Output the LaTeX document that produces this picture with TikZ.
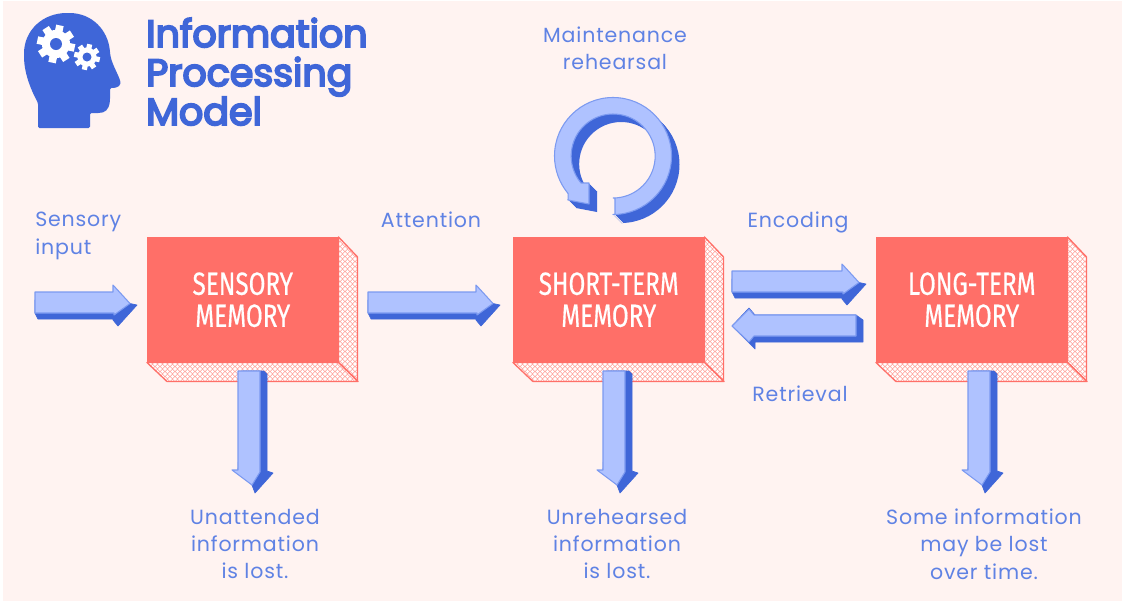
\documentclass[tikz,border=0pt]{standalone}
\usepackage{fontspec}
\usetikzlibrary{patterns}
\setmainfont{Poppins}
\newfontfamily\boxfont[FakeStretch=0.76,FakeBold=0.5]{Fira Sans}
\newfontfamily\lblfont[LetterSpace=4]{Poppins}
\newfontfamily\ttlfont[FakeBold=5]{Poppins}
\definecolor{bgpink}{HTML}{FFF3F1}
\definecolor{bluedark}{HTML}{3F66D8}
\definecolor{bluelight}{HTML}{AFC2FF}
\definecolor{blueline}{HTML}{7C9AF0}
\definecolor{bluetext}{HTML}{5F82E4}
\definecolor{boxred}{HTML}{FF6F68}
\definecolor{hatchred}{HTML}{FFA8A2}
\pgfdeclarepatternformonly{facedots}{\pgfqpoint{-1.3pt}{-1.3pt}}{\pgfqpoint{5.05pt}{5.05pt}}{\pgfqpoint{3.75pt}{3.75pt}}{%
  \pgfpathcircle{\pgfqpoint{0pt}{0pt}}{1.25pt}%
  \pgfpathcircle{\pgfqpoint{1.875pt}{1.875pt}}{1.25pt}%
  \pgfpathcircle{\pgfqpoint{3.75pt}{3.75pt}}{1.25pt}%
  \pgfpathcircle{\pgfqpoint{3.75pt}{0pt}}{1.25pt}%
  \pgfpathcircle{\pgfqpoint{0pt}{3.75pt}}{1.25pt}%
  \pgfusepath{fill}}
\tikzset{
  lbl/.style={text=bluetext,font=\fontsize{15.4}{20.5}\selectfont\lblfont,inner sep=0pt,align=center},
  lblleft/.style={lbl,align=left},
  ttl/.style={text=bluedark,font=\fontsize{28.5}{29.3}\selectfont\ttlfont,inner sep=0pt,align=left},
  front/.style={fill=boxred,inner sep=0pt,minimum width=143.25pt,minimum height=93.75pt,text=white,align=center,
     font=\fontsize{24}{24}\selectfont\boxfont},
  facerim/.style={draw=boxred,line width=1pt,line join=round},
  lightface/.style={fill=bluelight,draw=blueline,line width=.8pt,line join=round},
  darkface/.style={fill=bluedark,draw=bluedark,line width=.5pt,line join=round},
}
\newcommand{\hatchface}[1]{%
  \fill[hatchred] #1;
  \fill[pattern=facedots,pattern color=white] #1;
  \draw[facerim] #1;
}
% memory box: name, left x, text
\newcommand{\membox}[3]{%
  \node[front,anchor=north west] (#1) at (#2,237) {#3};
  % right face
  \hatchface{(#1.north east) -- ++(19,20) -- ++(0,124) -- (#1.south east) -- cycle}
  % bottom face
  \hatchface{(#1.south west) -- ++(20,19) -- ++(191,0) -- (#1.south east) -- cycle}
}
\newcommand{\rightarrowshape}[3]{% head base x, left end x, body top y
  \begin{scope}[shift={(#1,#3)}]
    \filldraw[darkface] (#2-#1,8) -- (#2-#1,21) -- (#2-#1+3,27) -- (0,27) -- (0,28) -- (5,34) -- (24,13) -- (17,11.5) -- (0,8) -- cycle;
    \filldraw[lightface] (#2-#1,0) -- (0,0) -- (0,-7) -- (17,11.5) -- (1,23) -- (1,21) -- (#2-#1,21) -- cycle;
  \end{scope}
}
\newcommand{\downarrowshape}[2]{% left light x, name
  \begin{scope}[shift={(#1,371)}]
    \filldraw[darkface] (4,0) -- (26,0) -- (29,3) -- (29,100) -- (35,102) -- (17,122) -- (14,114) -- (0,99) -- cycle;
    \filldraw[lightface] (0,0) -- (22,0) -- (22,101) -- (14,114) -- (-6,99) -- (0,99) -- cycle;
  \end{scope}
}
\newcommand{\gear}[4]{% x y radius hole
  \foreach \a in {0,45,...,315}{
    \draw[white,line width=#3*.30pt] ({#1+#3*.6*cos(\a+12)},{#2+#3*.6*sin(\a+12)}) -- ({#1+#3*cos(\a+12)},{#2+#3*sin(\a+12)});
  }
  \fill[white] (#1,#2) circle[radius=#3*.74];
  \fill[bluedark] (#1,#2) circle[radius=#4];
}
\begin{document}
\begin{tikzpicture}[x=.75pt,y=-.75pt]
\useasboundingbox (0,0) rectangle (1122,604);
\fill[white] (0,0) rectangle (1122,604);
\fill[bgpink] (3,1) rectangle (1122,601);
% head icon
\fill[bluedark,rounded corners=1pt] (38,128) -- (38,103) .. controls (30,88) and (24,72) .. (24,55)
  .. controls (24,30) and (43,13) .. (68,13)
  .. controls (92,13) and (108,30) .. (110,52)
  .. controls (111,62) and (116,70) .. (120,80)
  .. controls (121,85) and (119,88) .. (110,88)
  -- (110,100) .. controls (109,110) and (105,113) .. (97,113) -- (90,113) -- (90,128) -- cycle;
\gear{56}{44}{19}{6}
\gear{87}{57}{13}{4.5}
% title
\node[ttl,anchor=base west] (titlea) at (146,47) {Information};
\node[ttl,anchor=base west] (titleb) at (146,86) {Processing};
\node[ttl,anchor=base west] (titlec) at (146,125) {Model};
% boxes
\membox{sensory}{147}{SENSORY\\MEMORY}
\membox{shortterm}{513}{SHORT-TERM\\MEMORY}
\membox{longterm}{876}{LONG-TERM\\MEMORY}
% arrows
\rightarrowshape{113}{35}{292}
\rightarrowshape{476}{368}{292}
\rightarrowshape{842}{732}{271}
% retrieval
\filldraw[darkface] (732,326) -- (749,308) -- (755,315) -- (856,315) -- (863,320) -- (863,342) -- (755,342) -- (755,349) -- cycle;
\filldraw[lightface] (732,326) -- (749,309) -- (754,315) -- (856,315) -- (856,336) -- (754,336) -- (749,342) -- cycle;
\downarrowshape{238}{a}
\downarrowshape{603}{b}
\downarrowshape{968}{c}
% circular arrow
\foreach \d in {8,7,...,1}{
  \fill[bluedark,shift={(\d,\d)}] (613,215) arc[start angle=90,end angle=-220,radius=58.5] -- (568,200) -- (589,204) -- (589,183) -- (581,183) arc[start angle=-220,end angle=90,radius=42] -- (615,198) -- (615,215) -- cycle;
}
\filldraw[lightface] (613,214.5) arc[start angle=90,end angle=-220,radius=58.5] -- (568,200) -- (589,204) -- (589,183) -- (581,183) arc[start angle=-220,end angle=90,radius=42] -- (615,198) -- (615,214.5) -- cycle;
% labels
\node[lblleft,anchor=west] (lsens) at (35,236) {Sensory\\input};
\node[lbl] (latt) at (431,220) {Attention};
\node[lbl] (lenc) at (798,222) {Encoding};
\node[lbl] (lret) at (800,394) {Retrieval};
\node[lbl] (lmain) at (615,48) {Maintenance\\rehearsal};
\node[lbl] (lun) at (255,544) {Unattended\\information\\is lost.};
\node[lbl] (lur) at (617,544) {Unrehearsed\\information\\is lost.};
\node[lbl] (lso) at (984,544) {Some information\\may be lost\\over time.};
\end{tikzpicture}
\end{document}
